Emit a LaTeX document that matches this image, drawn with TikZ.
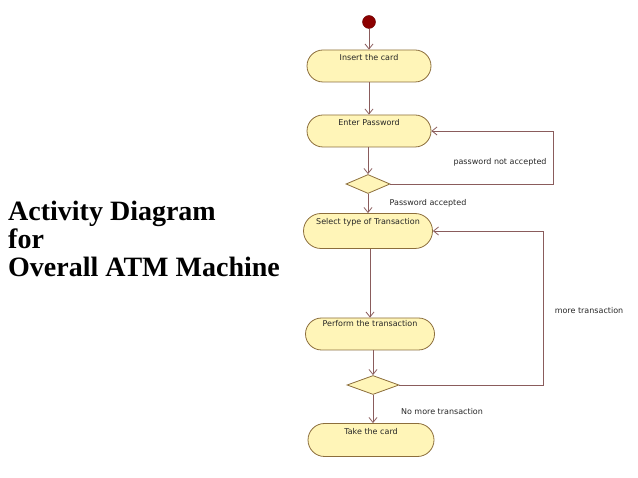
\documentclass[tikz,border=0pt]{standalone}
\usepackage{fontspec}
\setmainfont{Liberation Serif}
\newfontfamily\smallsans{DejaVu Sans}
\usetikzlibrary{shapes.geometric,shapes.misc,arrows.meta}
\definecolor{ln}{HTML}{8A5C5C}
\definecolor{fl}{HTML}{FFF5B8}
\definecolor{bd}{HTML}{8C6E3C}
\begin{document}
\begin{tikzpicture}[x=1pt,y=-1pt,
  act/.style={rounded rectangle, draw=bd, fill=fl, line width=0.8pt, minimum width=124pt, minimum height=32pt, inner sep=0pt},
  dec/.style={diamond, draw=bd, fill=fl, line width=0.8pt, minimum width=44pt, minimum height=19pt, inner sep=0pt, aspect=2.3},
  lbl/.style={font=\smallsans\fontsize{8}{10}\selectfont, text=black!85},
  fl/.style={draw=ln, line width=0.8pt, -{Straight Barb[length=5pt,width=8pt]}}]
\useasboundingbox (0,0) rectangle (638,478);
\node[circle, fill=red!55!black, draw=red!40!black, minimum size=13pt, inner sep=0pt] (s) at (369,22) {};
\node[act] (a1) at (369,66) {}; \node[lbl] at (369,58) {Insert the card};
\node[act] (a2) at (369,131) {}; \node[lbl] at (369,123) {Enter Password};
\node[dec] (d1) at (368,184) {};
\node[act, minimum width=129pt, minimum height=35pt] (a3) at (368,231) {}; \node[lbl] at (368,222) {Select type of Transaction};
\node[act, minimum width=129pt] (a4) at (370,334) {}; \node[lbl] at (370,324) {Perform the transaction};
\node[dec, minimum width=52pt] (d2) at (373,385) {};
\node[act, minimum height=33pt, minimum width=126pt] (a5) at (371,440) {}; \node[lbl] at (371,432) {Take the card};
\coordinate (c1) at (553,184); \coordinate (c2) at (553,131);
\coordinate (c3) at (543,385); \coordinate (c4) at (543,231);
\draw[fl] (s) -- (a1);
\draw[fl] (a1) -- (a2);
\draw[fl] (a2.south -| d1) -- (d1);
\draw[fl] (d1) -- (a3);
\draw[fl] (a3.south -| a4) -- (a4);
\draw[fl] (a4.south -| d2) -- (d2);
\draw[fl] (d2) -- (d2 |- a5.north);
\draw[fl] (d1.east) -- (c1) -- (c2) -- (a2.east);
\draw[fl] (d2.east) -- (c3) -- (c4) -- (a3.east);
\node[lbl] at (500,162) {password not accepted};
\node[lbl] at (428,203) {Password accepted};
\node[lbl] at (589,311) {more transaction};
\node[lbl] at (442,412) {No more transaction};
\node[anchor=north west, align=left, font=\bfseries\fontsize{28}{28}\selectfont, inner sep=0pt] (t) at (8,201) {Activity Diagram\\for\\Overall ATM Machine};
\end{tikzpicture}
\end{document}
